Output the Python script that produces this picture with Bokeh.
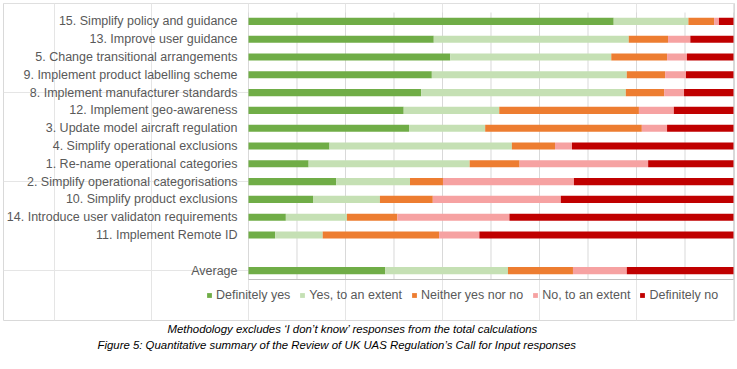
from bokeh.plotting import figure
from bokeh.models import (ColumnDataSource, Legend, LegendItem, Title, Range1d)
from bokeh.core.properties import value
from bokeh.embed import file_html
from bokeh.resources import INLINE

# ---- data (percent of responses, listed top to bottom) ----
categories = [
    "15. Simplify policy and guidance",
    "13. Improve user guidance",
    "5. Change transitional arrangements",
    "9. Implement product labelling scheme",
    "8. Implement manufacturer standards",
    "12. Implement geo-awareness",
    "3. Update model aircraft regulation",
    "4. Simplify operational exclusions",
    "1. Re-name operational categories",
    "2. Simplify operational categorisations",
    "10. Simplify product exclusions",
    "14. Introduce user validaton requirements",
    "11. Implement Remote ID",
    "",
    "Average",
]
definitely_yes = [75.3, 38.2, 41.6, 37.8, 35.6, 32.0, 33.1, 16.7, 12.4, 18.1, 13.3, 7.7, 5.5, 0, 28.2]
yes_extent     = [15.4, 40.2, 33.2, 40.2, 42.2, 19.7, 15.7, 37.6, 33.2, 15.2, 13.8, 12.6, 9.8, 0, 25.3]
neither        = [5.3, 8.1, 11.5, 7.9, 7.9, 28.8, 32.3, 8.9, 10.3, 6.8, 10.9, 10.4, 24.0, 0, 13.4]
no_extent      = [1.0, 4.6, 4.1, 4.3, 4.1, 7.2, 5.2, 3.5, 26.5, 27.0, 26.4, 23.1, 8.3, 0, 11.1]
definitely_no  = [3.0, 8.9, 9.6, 9.8, 10.2, 12.3, 13.7, 33.3, 17.6, 32.9, 35.6, 46.2, 52.4, 0, 22.0]
series_labels = ["Definitely yes", "Yes, to an extent", "Neither yes nor no",
                 "No, to an extent", "Definitely no"]
grid_ticks = [0, 10, 20, 30, 40, 50, 60, 70, 80, 90, 100]
caption_1 = "Methodology excludes \u2018I don\u2019t know\u2019 responses from the total calculations"
caption_2 = "Figure 5: Quantitative summary of the Review of UK UAS Regulation\u2019s Call for Input responses"

colors = ["#70AD47", "#C5E0B4", "#ED7D31", "#F6A2A2", "#C00000"]
keys = ["dy", "ye", "nn", "ne", "dn"]

n = len(categories)
row_pos = [n - 1 - i for i in range(n)]   # top row highest

src = ColumnDataSource(dict(cat=categories, y=row_pos, dy=definitely_yes, ye=yes_extent,
                            nn=neither, ne=no_extent, dn=definitely_no))

FONT = "Liberation Sans"
TXT = "#595959"

# frame = the bordered chart box; value 0..100 maps to the bar area
p = figure(width=737, height=366, output_backend="svg", toolbar_location=None,
           x_axis_location=None, y_axis_location=None,
           x_range=Range1d(-50.515, 100.206), y_range=Range1d(-2.803, 15.006),
           min_border_left=3, min_border_right=3, min_border_top=3, min_border_bottom=46)
p.background_fill_color = "white"
p.border_fill_color = "white"
p.outline_line_color = "#D9D9D9"
p.outline_line_width = 1

# vertical gridlines and bottom axis line
p.segment(x0=grid_ticks, x1=grid_ticks, y0=[-0.5] * len(grid_ticks), y1=[n - 0.5] * len(grid_ticks),
          line_color="#D9D9D9", line_width=1)
p.segment(x0=[0], x1=[100], y0=[-0.5], y1=[-0.5], line_color="#BFBFBF", line_width=1)

renderers = p.hbar_stack(keys, y="y", height=0.4, color=colors, source=src, line_width=0)

# category labels
p.text(x=-2.268, y="y", text="cat", source=src, text_align="right", text_baseline="middle",
       text_font=value(FONT), text_font_size="12.5px", text_color=TXT)

legend = Legend(items=[LegendItem(label=l, renderers=[r]) for l, r in zip(series_labels, renderers)],
                orientation="horizontal", location=(203, 18),
                glyph_width=6, glyph_height=6, label_standoff=4, spacing=9,
                padding=0, margin=0, border_line_color=None, background_fill_alpha=0,
                label_text_font=FONT, label_text_font_size="12.5px", label_text_color=TXT,
                label_height=12)
p.add_layout(legend)

t1 = Title(text=caption_1, align="left", offset=164, standoff=0,
           text_font=FONT, text_font_size="11.4px", text_font_style="italic", text_color="#000000")
t2 = Title(text=caption_2, align="left", offset=94, standoff=4,
           text_font=FONT, text_font_size="11.4px", text_font_style="italic", text_color="#000000")
p.add_layout(t1, "below")
p.add_layout(t2, "below")

open("out.html", "w").write(file_html(p, INLINE))
